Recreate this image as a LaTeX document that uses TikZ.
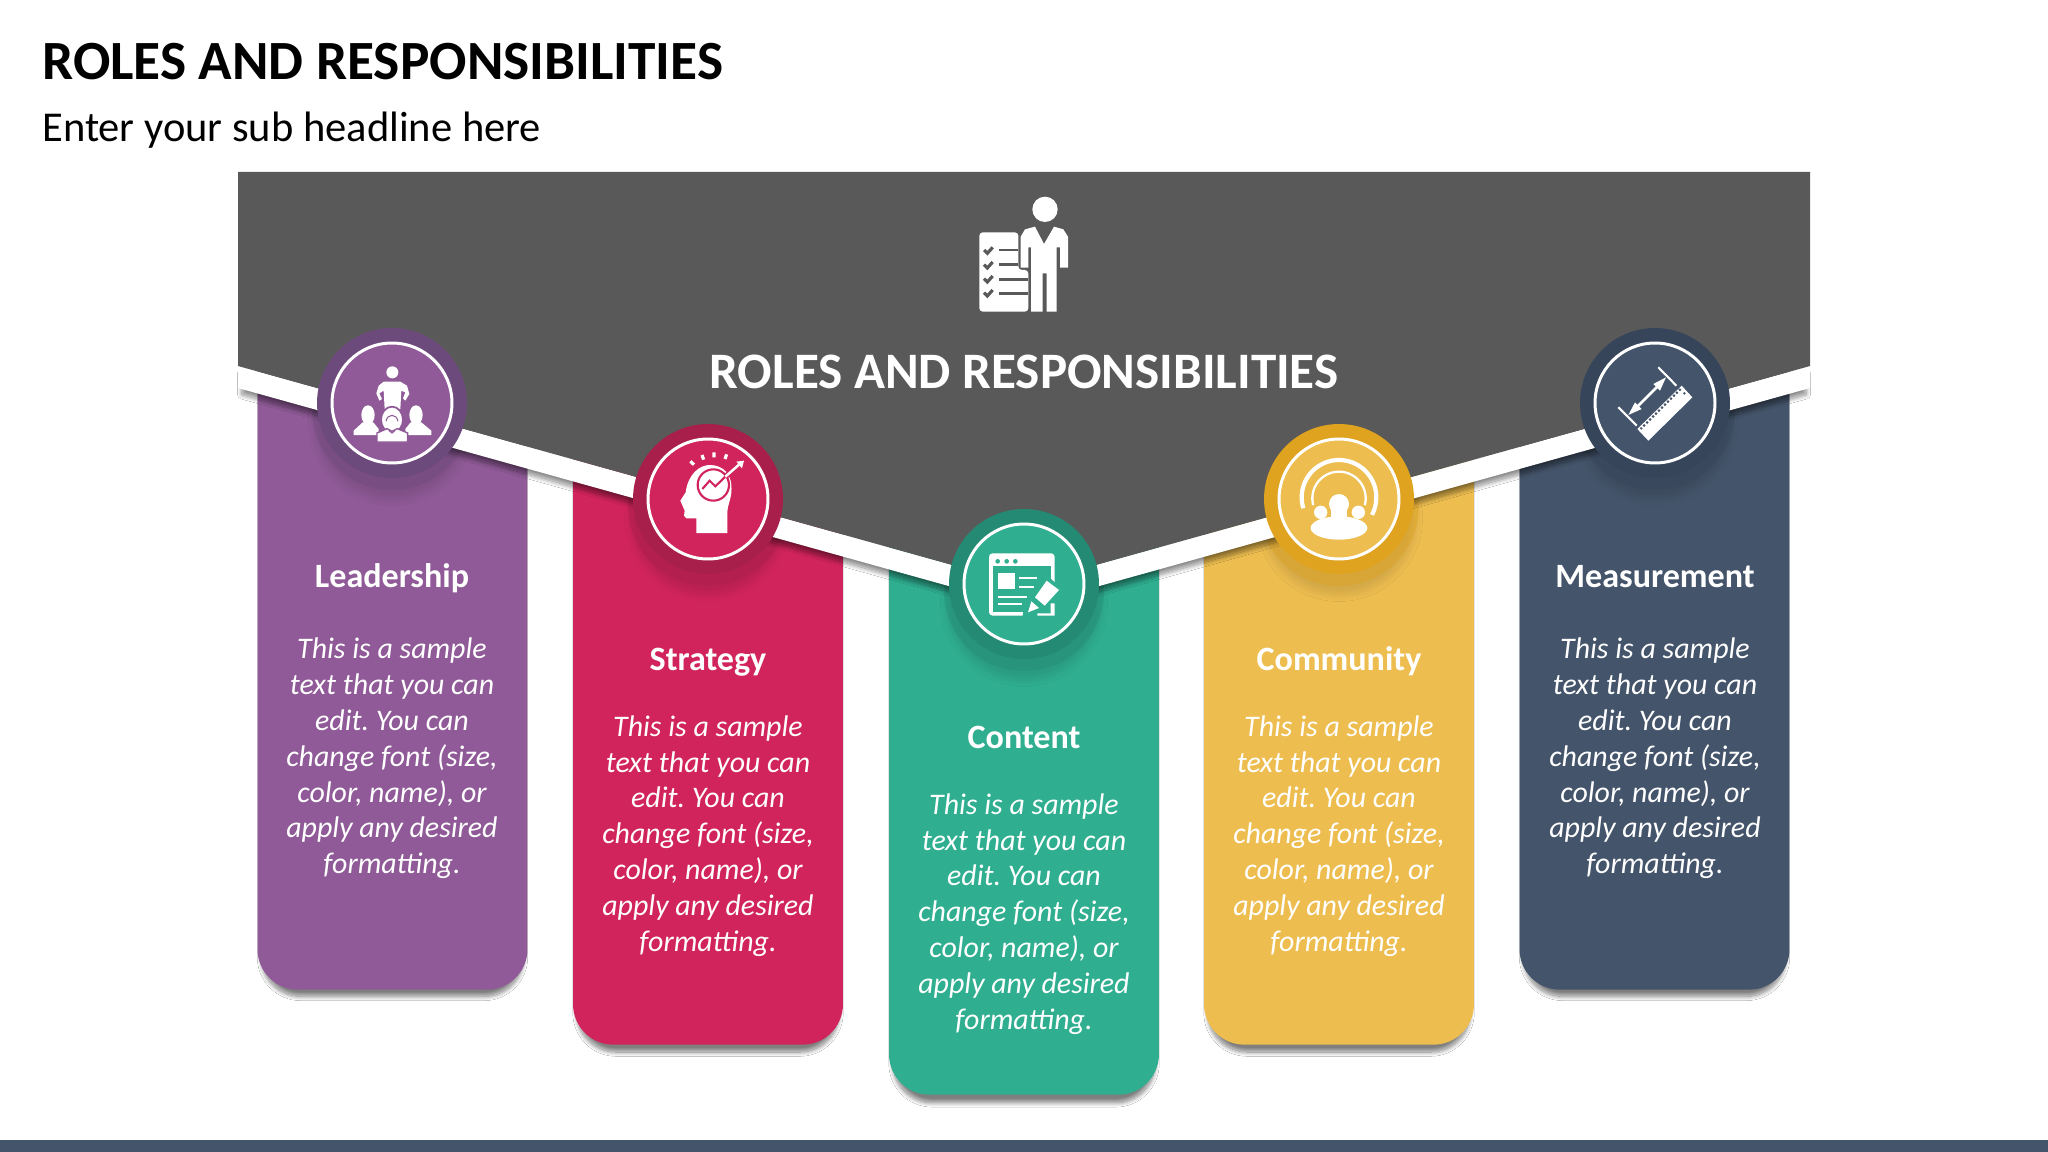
\documentclass[tikz,border=0pt]{standalone}
\usepackage{fontspec}
\setmainfont{Carlito}
\frenchspacing
\usepackage{tikz}
\usetikzlibrary{positioning, shadows.blur}
\definecolor{cgray}{HTML}{595959}
\definecolor{cpurple}{HTML}{8F5A97}
\definecolor{dpurple}{HTML}{6D4A7C}
\definecolor{ccrimson}{HTML}{D1245C}
\definecolor{dcrimson}{HTML}{A81F4C}
\definecolor{cgreen}{HTML}{2FAE90}
\definecolor{dgreen}{HTML}{258A73}
\definecolor{cyellow}{HTML}{EDBD50}
\definecolor{dyellow}{HTML}{DFA31F}
\definecolor{cnavy}{HTML}{44546A}
\definecolor{dnavy}{HTML}{36455A}
\tikzset{
  x=0.02cm, y=-0.02cm,
  card/.style={
    rectangle, rounded corners=23pt, minimum width=5.4cm, anchor=south,
    blur shadow={shadow xshift=0pt, shadow yshift=-10pt, shadow scale=0.97, shadow blur radius=2.5pt, shadow blur steps=12, shadow opacity=50}
  },
  halo/.style={
    circle, minimum size=3.2cm, inner sep=0pt, opacity=0.4,
    blur shadow={shadow xshift=0pt, shadow yshift=-7pt, shadow scale=0.97, shadow blur radius=3.5pt, shadow blur steps=12, shadow opacity=25}
  },
  band/.style={circle, minimum size=3cm, inner sep=0pt},
  face/.style={circle, draw=white, line width=1.7pt, minimum size=2.4cm, inner sep=0pt},
  title/.style={text=white, font=\fontsize{29.1}{34}\bfseries\selectfont},
  head/.style={
    text=white, inner sep=0pt, text height=0.72em, text depth=0.22em,
    font=\fontsize{19.4}{23}\bfseries\selectfont
  },
  body/.style={
    text=white, inner sep=0pt, align=center, node distance=0.8cm,
    font=\fontsize{17}{20.4}\itshape\selectfont
  },
  icon/.style={fill=white}
}
\newcommand{\sampletext}{This is a sample\\text that you can\\edit. You can\\change font (size,\\color, name), or\\apply any desired\\formatting.}
\newcommand{\badge}[5]{%
  \node[band, fill=#5] (#1) at (#2,#3) {};
  \node[face, fill=#4] (#1face) at (#1) {};
}
\begin{document}
\begin{tikzpicture}
      \useasboundingbox (0,0) rectangle (2048,1152);
      \fill[white] (0,0) rectangle (2048,1152);
      \fill[cnavy] (0,1140) rectangle (2048,1152);

      \node[anchor=west, inner sep=0pt, font=\fontsize{31.5}{36}\bfseries\selectfont] (pagetitle) at (42,62) {ROLES AND RESPONSIBILITIES};
      \node[anchor=west, inner sep=0pt, font=\fontsize{24.2}{29}\selectfont] (subtitle) at (42,130) {Enter your sub headline here};

      % cards
      \node[card, fill=cpurple, minimum height=13.8cm] (leadcard) at (392.5,990) {};
      \node[card, fill=ccrimson, minimum height=12.9cm] (stratcard) at (708,1045) {};
      \node[card, fill=cgreen, minimum height=11.9cm] (contcard) at (1024,1095) {};
      \node[card, fill=cyellow, minimum height=12.9cm] (commcard) at (1339,1045) {};
      \node[card, fill=cnavy, minimum height=13.8cm] (meascard) at (1654.5,990) {};

      \node[halo, fill=dpurple] (leadhalo) at (392,410) {};
      \node[halo, fill=dcrimson] (strathalo) at (708,506) {};
      \node[halo, fill=dgreen] (conthalo) at (1024,591) {};
      \node[halo, fill=dyellow] (commhalo) at (1339,506) {};
      \node[halo, fill=dnavy] (meashalo) at (1655,410) {};

      % white strip and gray banner
      \fill[white, blur shadow={shadow xshift=0pt, shadow yshift=-3.5pt, shadow scale=0.995, shadow blur radius=2.5pt, shadow blur steps=12, shadow opacity=45}]
        (238,366) -- (1024,585) -- (1810,366) -- (1810,388) -- (1024,607) -- (238,388) -- cycle;
      \fill[cgray] (238,172) -- (1810,172) -- (1810,366) -- (1024,585) -- (238,366) -- cycle;

      \badge{lead}{392}{403}{cpurple}{dpurple}
      \badge{strat}{708}{499}{ccrimson}{dcrimson}
      \badge{cont}{1024}{584}{cgreen}{dgreen}
      \badge{comm}{1339}{499}{cyellow}{dyellow}
      \badge{meas}{1655}{403}{cnavy}{dnavy}

      \node[title] (bannertitle) at (1024,372) {ROLES AND RESPONSIBILITIES};

      % texts
      \node[head] (leadhead) at (392,583.5) {Leadership};
      \node[body, below=0.91cm of leadhead] (leadtext) {\sampletext};
      \node[head] (strathead) at (708,666.5) {Strategy};
      \node[body, below=of strathead] (strattext) {\sampletext};
      \node[head] (conthead) at (1024,744.5) {Content};
      \node[body, below=of conthead] (conttext) {\sampletext};
      \node[head] (commhead) at (1339,666.5) {Community};
      \node[body, below=of commhead] (commtext) {\sampletext};
      \node[head] (meashead) at (1655,583.5) {Measurement};
      \node[body, below=0.91cm of meashead] (meastext) {\sampletext};

      % banner icon
      \begin{scope}[shift={(900,170)}, scale=1/3]
        \fill[icon] (435,118) circle[radius=38];
        \fill[icon, rounded corners=2pt] (238,187) -- (355,187) -- (355,300) -- (385,300) -- (385,425) -- (238,425) -- cycle;
        \fill[icon] (362,200) -- (375,178) -- (405,170) -- (432,222) -- (462,170) -- (490,178) -- (504,200) -- (504,293)
          -- (480,293) -- (480,232) -- (470,232) -- (470,425) -- (440,425) -- (440,310) -- (428,310) -- (428,425)
          -- (393,425) -- (393,232) -- (385,232) -- (385,293) -- (362,293) -- cycle;
        \draw[cgray, line width=1.5pt] (433,170) -- (433,205);
        \draw[cgray, line width=1.4pt] (298,240) -- (355,240) (298,284) -- (355,284) (298,328) -- (385,328) (298,370) -- (385,370);
        \draw[cgray, line width=1.8pt] (252,240) -- (262,250) -- (278,232) (252,284) -- (262,294) -- (278,276)
          (252,326) -- (262,336) -- (278,318) (252,368) -- (262,378) -- (278,360);
      \end{scope}

      % leadership icon
      \begin{scope}[shift={(322,334)}, scale=1/3]
        \fill[icon] (211,115) circle[radius=18];
        \fill[icon] (185,143) -- (235,143) -- (255,155) -- (262,180) -- (250,200) -- (243,193) -- (250,175) -- (238,170)
          -- (235,225) -- (188,225) -- (185,170) -- (172,178) -- (180,195) -- (172,200) -- (163,178) -- (170,155) -- cycle;
        \fill[icon] (138,243) circle[x radius=20, y radius=29];
        \fill[icon] (122,265) -- (95,290) -- (95,303) -- (170,303) -- (170,285) -- (154,265) -- cycle;
        \fill[icon] (282,243) circle[x radius=20, y radius=29];
        \fill[icon] (298,265) -- (328,290) -- (328,303) -- (250,303) -- (250,285) -- (266,265) -- cycle;
        \fill[icon, draw=cpurple, line width=1pt] (210,257) circle[x radius=33, y radius=39];
        \fill[icon, draw=cpurple, line width=0.8pt] (165,324) -- (165,297) -- (195,284) -- (210,292) -- (226,284) -- (257,297) -- (257,324) -- cycle;
        \draw[cpurple, line width=0.6pt] (192,262) .. controls (196,238) and (224,238) .. (228,262);
        \draw[cpurple, line width=0.6pt] (201,290) -- (210,297) -- (219,290);
      \end{scope}

      % strategy icon
      \begin{scope}[shift={(638,429)}, scale=1/3]
        \fill[icon] (175,312) -- (175,268) -- (145,268) -- (138,260) -- (140,245) -- (127,215) -- (143,190)
          .. controls (150,135) and (185,108) .. (215,108) .. controls (255,108) and (285,135) .. (280,190)
          .. controls (278,215) and (268,230) .. (268,250) -- (268,312) -- cycle;
        \draw[ccrimson, line width=1.2pt, fill=white] (226,168) circle[radius=47];
        \draw[ccrimson, line width=1.2pt] (193,180) -- (215,155) -- (232,172) -- (265,140);
        \draw[ccrimson, line width=3pt] (262,143) -- (300,110);
        \draw[white, line width=1.4pt] (262,143) -- (303,107);
        \fill[icon] (318,95) -- (295,98) -- (312,118) -- cycle;
        \draw[white, line width=1.8pt] (157,97) -- (168,107) (192,78) -- (197,92) (228,70) -- (228,85) (266,76) -- (261,90);
      \end{scope}

      % content icon
      \begin{scope}[shift={(954,514)}, scale=1/3]
        \fill[icon, rounded corners=2pt] (105,118) rectangle (302,305);
        \fill[cgreen] (116,155) rectangle (290,295);
        \fill[cgreen] (131,142) circle[radius=7] (158,142) circle[radius=7] (184,142) circle[radius=7];
        \fill[icon] (132,178) rectangle (182,226);
        \draw[white, line width=1.3pt] (195,193) -- (250,193) (195,218) -- (240,218) (132,248) -- (218,248) (132,270) -- (205,270);
        \fill[cgreen] (210,278) -- (205,310) -- (300,310) -- (330,230) -- (280,185) -- (232,250) -- cycle;
        \fill[icon] (278,200) -- (315,228) -- (272,275) -- (243,250) -- cycle;
        \fill[icon] (222,295) -- (255,282) -- (232,262) -- cycle;
        \fill[icon] (250,298) -- (290,298) -- (290,268) -- (302,268) -- (302,305) -- (250,305) -- cycle;
      \end{scope}

      % community icon
      \begin{scope}[shift={(1269,429)}, scale=1/3]
        \draw[white, line width=2.4pt] plot[domain=-28:197, samples=50] ({210+112*cos(\x)},{205-112*sin(\x)});
        \draw[white, line width=1.3pt] plot[domain=-15:195, samples=50] ({210+80*cos(\x)},{208-80*sin(\x)});
        \fill[cyellow] (210,225) circle[radius=46];
        \fill[icon] (210,297) circle[x radius=85, y radius=35];
        \fill[icon] (210,225) circle[radius=30];
        \fill[icon] (155,250) circle[radius=20];
        \fill[icon] (268,250) circle[radius=20];
        \fill[icon] (185,240) rectangle (235,275);
      \end{scope}

      % measurement icon
      \begin{scope}[shift={(1585,334)}, scale=1/3]
        \fill[icon] (290,155) -- (322,190) -- (190,320) -- (157,285) -- cycle;
        \draw[cnavy, line width=1.2pt, dash pattern=on 1.2pt off 1.2pt] (287,165) -- (167,285);
        \fill[cnavy] (298,178) circle[radius=4];
        \draw[white, line width=1.2pt] (220,100) -- (274,155) (100,220) -- (155,275);
        \draw[white, line width=1.5pt] (220,155) -- (155,220);
        \fill[icon] (243,130) -- (205,150) -- (225,170) -- cycle;
        \fill[icon] (130,243) -- (150,205) -- (170,225) -- cycle;
      \end{scope}
    \end{tikzpicture}
\end{document}
